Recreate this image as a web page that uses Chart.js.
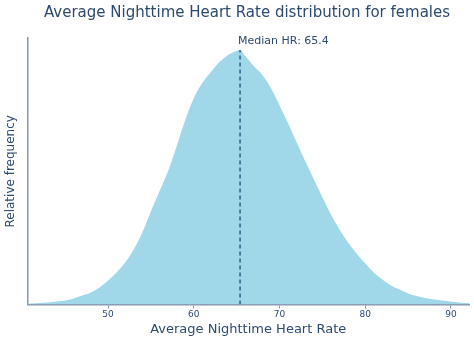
<!DOCTYPE html>
<html>
<head>
<meta charset="utf-8">
<script src="https://cdn.jsdelivr.net/npm/chart.js@4"></script>
<style>
html,body{margin:0;padding:0;background:#fff;}
#wrap{width:474px;height:340px;}
</style>
</head>
<body>
<div id="wrap"><canvas id="c" width="474" height="340"></canvas></div>
<script>
// Heart rate (bpm) sample points and estimated relative frequency
const heartRates = [40.6,41,42,43,44,45,46,47,48,49,50,51,52,53,54,55,56,57,58,59,60,61,62,63,64,65,65.4,66,67,68,69,70,71,72,73,74,75,76,77,78,79,80,81,82,83,84,85,86,87,88,89,90,91,92,92.1];
const relFreq = [0.0002,0.0002,0.0003,0.0004,0.0006,0.0008,0.0012,0.0018,0.0024,0.0034,0.0048,0.0064,0.0084,0.0110,0.0144,0.0186,0.0226,0.0266,0.0316,0.0368,0.0412,0.0442,0.0464,0.0484,0.0498,0.0506,0.0508,0.0496,0.0476,0.0458,0.0432,0.0398,0.0362,0.0324,0.0286,0.0250,0.0214,0.0180,0.0150,0.0124,0.0102,0.0082,0.0064,0.0050,0.0038,0.0030,0.0022,0.0017,0.0013,0.0010,0.0008,0.0006,0.00044,0.0003,0.0003];
const medianHR = 65.4;
const xTicks = [50,60,70,80,90];
const titleText = 'Average Nighttime Heart Rate distribution for females';

const textColor = '#2c4a6e';
const axisColor = '#8796ad';

const extras = {
  id: 'extras',
  afterDatasetsDraw(chart) {
    const {ctx, scales} = chart;
    const x = scales.x.getPixelForValue(medianHR);
    const y = scales.y.getPixelForValue(0.0508);
    ctx.save();
    ctx.fillStyle = textColor;
    ctx.font = '11px "DejaVu Sans"';
    ctx.textAlign = 'left';
    ctx.textBaseline = 'bottom';
    ctx.fillText('Median HR: ' + medianHR.toFixed(1), x - 2, y - 3);
    ctx.font = '15px "DejaVu Sans"';
    ctx.textAlign = 'center';
    ctx.textBaseline = 'middle';
    ctx.fillText(titleText, 247, 13);
    ctx.restore();
  }
};

new Chart(document.getElementById('c'), {
  type: 'line',
  data: {
    datasets: [
      {
        data: heartRates.map((v, i) => ({x: v, y: relFreq[i]})),
        fill: 'origin',
        backgroundColor: '#a0d8ea',
        borderColor: '#a0d8ea',
        borderWidth: 0,
        pointRadius: 0,
        cubicInterpolationMode: 'monotone',
        order: 2
      },
      {
        data: [{x: medianHR, y: 0}, {x: medianHR, y: 0.0508}],
        borderColor: '#2e5f80',
        borderWidth: 1.5,
        borderDash: [4, 3],
        pointRadius: 0,
        fill: false,
        order: 1
      }
    ]
  },
  options: {
    responsive: false,
    animation: false,
    layout: {padding: {left: 4, right: 5, top: 38, bottom: 3}},
    plugins: {
      legend: {display: false},
      tooltip: {enabled: false},
      title: {display: false}
    },
    scales: {
      x: {
        type: 'linear',
        min: 40.6,
        max: 92.1,
        afterBuildTicks(scale) { scale.ticks = xTicks.map(v => ({value: v})); },
        ticks: {color: textColor, font: {family: 'DejaVu Sans', size: 9}, padding: 1, maxRotation: 0},
        grid: {drawOnChartArea: false, drawTicks: true, tickLength: 4, color: axisColor},
        border: {display: true, color: axisColor, width: 1.5},
        title: {display: true, text: 'Average Nighttime Heart Rate', color: textColor, font: {family: 'DejaVu Sans', size: 13}, padding: {top: 0, bottom: 0}}
      },
      y: {
        min: 0,
        max: 0.0532,
        ticks: {display: false},
        grid: {display: false, drawTicks: false},
        border: {display: true, color: axisColor, width: 1.5},
        title: {display: true, text: 'Relative frequency', color: textColor, font: {family: 'DejaVu Sans', size: 12}, padding: {top: 0, bottom: 9}}
      }
    }
  },
  plugins: [extras]
});
</script>
</body>
</html>
